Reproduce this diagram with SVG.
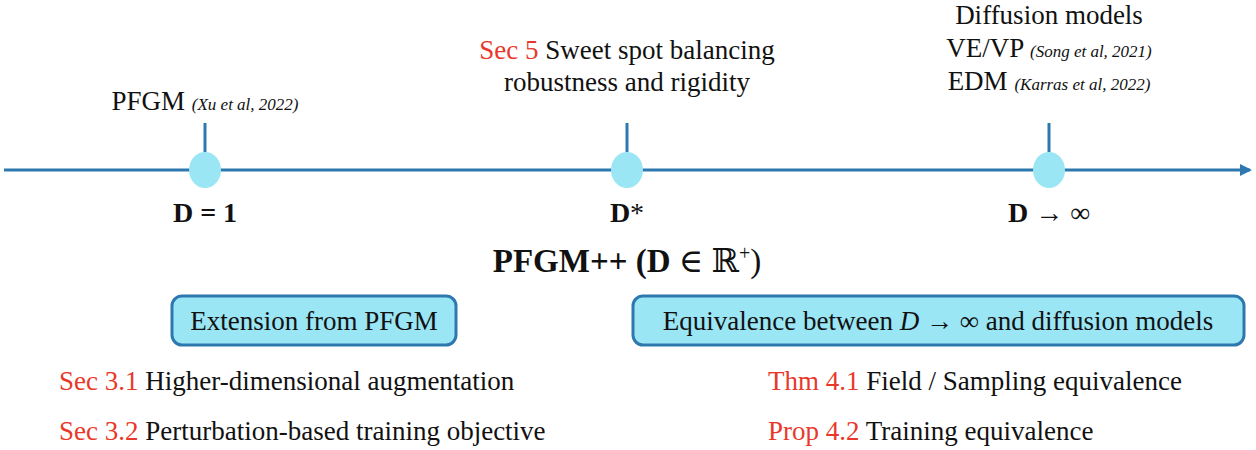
<svg xmlns="http://www.w3.org/2000/svg" width="1256" height="450" viewBox="0 0 1256 450" font-family="'Liberation Serif', 'Times New Roman', Times, 'DejaVu Serif', serif">
<style>
text{font-family:'Liberation Serif','Times New Roman',Times,'DejaVu Serif',serif;fill:#111;font-size:27px}
.r{fill:#e8382a}
.s{font-size:17px;font-style:italic}
.b{font-weight:bold;font-size:28px}
.ln{stroke:#2e78b0;stroke-width:3;fill:none}
.dot{fill:#9ae6f5}
.box{fill:#9ae6f5;stroke:#2e78b0;stroke-width:3}
</style>
<defs><marker id="ah" markerWidth="12" markerHeight="12" refX="10" refY="6" orient="auto" markerUnits="userSpaceOnUse"><path d="M0,0 L12,6 L0,12 Z" fill="#2e78b0"/></marker></defs>
<g id="connectors">
<line class="ln" x1="4" y1="170" x2="1250" y2="170" marker-end="url(#ah)"/>
<line class="ln" x1="205" y1="123" x2="205" y2="152"/>
<line class="ln" x1="627" y1="123" x2="627" y2="152"/>
<line class="ln" x1="1049" y1="123" x2="1049" y2="152"/>
</g>
<g id="n1"><ellipse class="dot" cx="205" cy="170" rx="16" ry="18"/>
<text x="205" y="110" text-anchor="middle">PFGM <tspan class="s">(Xu et al, 2022)</tspan></text>
<text class="b" x="205" y="222" text-anchor="middle">D = 1</text></g>
<g id="n2"><ellipse class="dot" cx="627" cy="170" rx="16" ry="18"/>
<text x="627" y="59" text-anchor="middle"><tspan class="r">Sec 5</tspan> Sweet spot balancing</text>
<text x="627" y="91" text-anchor="middle">robustness and rigidity</text>
<text class="b" x="627" y="222" text-anchor="middle">D<tspan font-weight="normal">*</tspan></text></g>
<g id="n3"><ellipse class="dot" cx="1049" cy="170" rx="16" ry="18"/>
<text x="1049" y="24" text-anchor="middle">Diffusion models</text>
<text x="1049" y="57" text-anchor="middle">VE/VP <tspan class="s">(Song et al, 2021)</tspan></text>
<text x="1049" y="90" text-anchor="middle">EDM <tspan class="s">(Karras et al, 2022)</tspan></text>
<text class="b" x="1049" y="222" text-anchor="middle">D <tspan font-weight="normal">→ ∞</tspan></text></g>
<g id="title"><text x="627" y="272" text-anchor="middle" font-weight="bold" style="font-size:33px">PFGM++ (D <tspan font-weight="normal">∈ ℝ<tspan dy="-12" style="font-size:20px">+</tspan><tspan dy="12">)</tspan></tspan></text></g>
<g id="box1"><rect class="box" x="172" y="296" width="284" height="49" rx="10"/>
<text x="314" y="330" text-anchor="middle">Extension from PFGM</text></g>
<g id="box2"><rect class="box" x="633" y="296" width="611" height="49" rx="10"/>
<text x="938" y="330" text-anchor="middle">Equivalence between <tspan font-style="italic">D</tspan> → ∞ and diffusion models</text></g>
<g id="items">
<text x="59" y="390"><tspan class="r">Sec 3.1</tspan> Higher-dimensional augmentation</text>
<text x="59" y="440"><tspan class="r">Sec 3.2</tspan> Perturbation-based training objective</text>
<text x="768" y="390"><tspan class="r">Thm 4.1</tspan> Field / Sampling equivalence</text>
<text x="768" y="440"><tspan class="r">Prop 4.2</tspan> Training equivalence</text>
</g>
</svg>
